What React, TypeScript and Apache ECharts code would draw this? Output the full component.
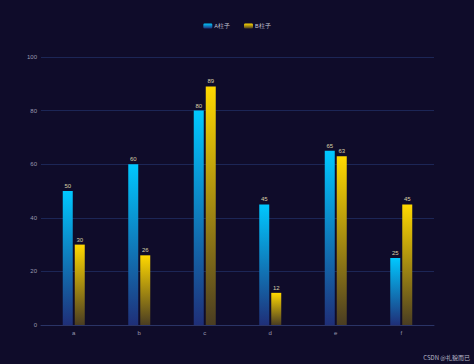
import React, { useEffect, useRef } from "react";
import * as echarts from "echarts";

const categories = ["a", "b", "c", "d", "e", "f"];
const seriesA = [50, 60, 80, 45, 65, 25];
const seriesB = [30, 26, 89, 12, 63, 45];
const seriesNames = ["A柱子", "B柱子"];

export default function App() {
  const ref = useRef<HTMLDivElement>(null);
  useEffect(() => {
    const chart = echarts.init(ref.current!, null, { renderer: "svg" });
    const gradA = new echarts.graphic.LinearGradient(0, 0, 0, 1, [
      { offset: 0, color: "#00c8ff" },
      { offset: 1, color: "#1f2f78" },
    ]);
    const gradB = new echarts.graphic.LinearGradient(0, 0, 0, 1, [
      { offset: 0, color: "#ffd800" },
      { offset: 1, color: "#4a3d22" },
    ]);
    chart.setOption({
      animation: false,
      backgroundColor: "#0f0c2a",
      legend: {
        top: 18,
        left: "center",
        itemWidth: 9,
        itemHeight: 5,
        itemGap: 14,
        textStyle: { color: "#c8c8d8", fontSize: 5.5, padding: [0, 0, 0, -3] },
        data: seriesNames,
      },
      graphic: [
        {
          type: "text",
          right: 4,
          bottom: 4,
          style: { text: "CSDN @礼貌而已", fill: "#b8b8c8", fontSize: 6, fontFamily: "Noto Sans CJK SC" },
        },
      ],
      grid: { left: 41, right: 40, top: 57, bottom: 39 },
      xAxis: {
        type: "category",
        data: categories,
        axisLine: { lineStyle: { color: "#2a3466" } },
        axisTick: { show: false },
        axisLabel: { color: "#9a9ab0", fontSize: 6, margin: 5 },
      },
      yAxis: {
        type: "value",
        min: 0,
        max: 100,
        interval: 20,
        axisLine: { show: false },
        axisTick: { show: false },
        axisLabel: { color: "#9a9ab0", fontSize: 6, margin: 4 },
        splitLine: { lineStyle: { color: "#1c2656", width: 1 } },
      },
      series: [
        {
          name: seriesNames[0],
          type: "bar",
          data: seriesA,
          barWidth: 10,
          barGap: "20%",
          itemStyle: { color: gradA },
          label: { show: true, position: "top", color: "#d8d0a8", fontSize: 6, distance: 2 },
        },
        {
          name: seriesNames[1],
          type: "bar",
          data: seriesB,
          barWidth: 10,
          barGap: "20%",
          itemStyle: { color: gradB },
          label: { show: true, position: "top", color: "#d8d0a8", fontSize: 6, distance: 2 },
        },
      ],
    });
    return () => chart.dispose();
  }, []);
  return <div ref={ref} style={{ width: 474, height: 364, position: "absolute", left: 0, top: 0 }} />;
}
